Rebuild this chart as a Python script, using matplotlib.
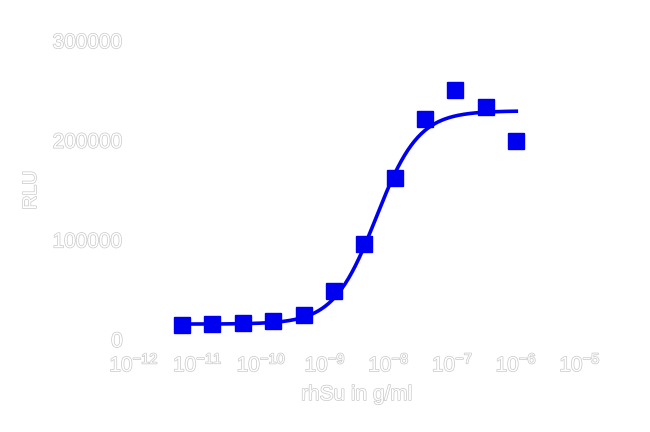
import matplotlib
matplotlib.use('Agg')
import matplotlib.pyplot as plt
import matplotlib.patheffects as pe
import numpy as np

# 1:3 dilution series, concentration in g/ml
conc = [5.645e-12, 1.694e-11, 5.081e-11, 1.524e-10, 4.572e-10, 1.372e-9,
        4.115e-9, 1.235e-8, 3.704e-8, 1.111e-7, 3.333e-7, 1.0e-6]
rlu = [14600, 15300, 16900, 19000, 24700, 48900,
       96000, 161800, 221300, 250500, 233100, 199400]

# four parameter logistic fit
bottom = 15500
top = 229500
log_ec50 = -8.2
hill = 1.3

x_ticks = [1e-12, 1e-11, 1e-10, 1e-9, 1e-8, 1e-7, 1e-6, 1e-5]
x_tick_labels = ['$10^{-12}$', '$10^{-11}$', '$10^{-10}$', '$10^{-9}$',
                 '$10^{-8}$', '$10^{-7}$', '$10^{-6}$', '$10^{-5}$']
y_ticks = [0, 100000, 200000, 300000]
y_tick_labels = ['0', '100000', '200000', '300000']

plt.rcParams['font.family'] = ['Liberation Sans', 'DejaVu Sans']
plt.rcParams['mathtext.fontset'] = 'custom'
plt.rcParams['mathtext.rm'] = 'Liberation Sans'
plt.rcParams['mathtext.it'] = 'Liberation Sans'

# faint outlined text like the original
ghost = [pe.Stroke(linewidth=1.0, foreground='#c8c8c8'), pe.Normal()]

fig = plt.figure(figsize=(6.5, 4.32), dpi=100)
ax = fig.add_axes([0.2062, 0.2141, 0.6861, 0.6917])

log_fit = np.linspace(np.log10(conc[0]), np.log10(conc[-1]), 300)
fit = bottom + (top - bottom) / (1 + 10 ** ((log_ec50 - log_fit) * hill))
ax.plot(10 ** log_fit, fit, color='#0000f0', lw=2.6, zorder=2)
ax.plot(conc, rlu, 's', color='#0000f0', ms=11, zorder=3)

ax.set_xscale('log')
ax.set_xlim(1e-12, 1e-5)
ax.set_ylim(0, 300000)
ax.set_xticks(x_ticks)
ax.set_xticklabels(x_tick_labels)
ax.minorticks_off()
ax.set_yticks(y_ticks)
ax.set_yticklabels(y_tick_labels)
ax.tick_params(length=0, labelsize=15, labelcolor='white')
ax.tick_params(axis='x', pad=10)
ax.tick_params(axis='y', pad=8)
for lab in ax.get_xticklabels() + ax.get_yticklabels():
    lab.set_path_effects(ghost)

for s in ax.spines.values():
    s.set_visible(False)

ax.set_xlabel('rhSu in g/ml', fontsize=15, color='white', labelpad=7,
              path_effects=ghost)
ax.set_ylabel('RLU', fontsize=14, color='white', labelpad=9,
              path_effects=ghost)

fig.savefig('out.png', dpi=100)
